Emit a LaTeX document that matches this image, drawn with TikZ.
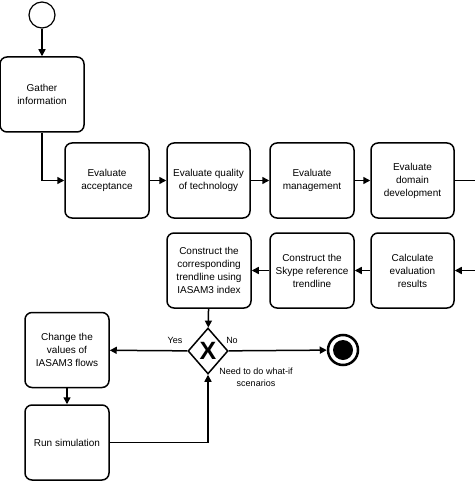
\documentclass[tikz,border=0pt]{standalone}
\usepackage{fontspec}
\setmainfont{Liberation Sans}
\usetikzlibrary{arrows.meta,shapes.geometric}

\begin{document}
\begin{tikzpicture}[x=1pt,y=-1pt,
    task/.style={shape=rectangle, draw=black, line width=1.5pt, rounded corners=7pt,
        minimum width=84pt, minimum height=75pt, align=center, inner sep=1pt,
        font=\fontsize{10}{13}\selectfont},
    flow/.style={line width=1.5pt, -{Triangle[length=7pt,width=7pt]}},
    lbl/.style={font=\fontsize{9}{12}\selectfont, align=center}]
    \useasboundingbox (0,0) rectangle (474,481);
    \node[shape=circle, draw=black, line width=1.2pt, minimum size=26pt, inner sep=0pt] at (42,15) (S) {};
    \node[task] at (42,94.5) (G) {Gather\\information};
    \node[task] at (107,180.5) (E1) {Evaluate\\acceptance};
    \node[task, minimum width=83pt] at (208.5,180.5) (E2) {Evaluate quality\\of technology};
    \node[task] at (312,180.5) (E3) {Evaluate\\management};
    \node[task, minimum width=83pt] at (412.5,180.5) (E4) {Evaluate\\domain\\development};
    \node[task, minimum width=83pt] at (412.5,270.5) (C1) {Calculate\\evaluation\\results};
    \node[task] at (312,270.5) (C2) {Construct the\\Skype reference\\trendline};
    \node[task] at (209,270.5) (C3) {Construct the\\corresponding\\trendline using\\IASAM3 index};
    \node[shape=diamond, draw=black, line width=1.5pt, minimum width=40pt, minimum height=46pt,
        inner sep=0pt, font=\fontsize{25}{25}\selectfont\bfseries] at (208,351) (X) {X};
    \node[task] at (67,350) (V) {Change the\\values of\\IASAM3 flows};
    \node[task] at (67,442.5) (R) {Run simulation};
    \node[shape=circle, draw=black, line width=2.5pt, minimum size=30pt, inner sep=0pt] at (343,350) (F) {};
    \node[shape=circle, fill=black, minimum size=20pt, inner sep=0pt] at (343,350) (F0) {};
    \coordinate (T1) at (480,180.5);
    \coordinate (T2) at (480,270.5);
    \node[lbl] at (175,340) (Y) {Yes};
    \node[lbl] at (232,340) (N) {No};
    \node[lbl] at (256,377) (Q) {Need to do what-if\\scenarios};
    \draw[flow] (S) -- (G);
    \draw[flow] (G.south) |- (E1.west);
    \draw[flow] (E1) -- (E2);
    \draw[flow] (E2) -- (E3);
    \draw[flow] (E3) -- (E4);
    \draw[flow] (E4.east) -- (T1) -- (T2) -- (C1.east);
    \draw[flow] (C1) -- (C2);
    \draw[flow] (C2) -- (C3);
    \draw[flow] (C3) -- (X);
    \draw[flow] (X) -- (V);
    \draw[flow] (X) -- (F);
    \draw[flow] (V) -- (R);
    \draw[flow] (R.east) -| (X.south);
\end{tikzpicture}
\end{document}
